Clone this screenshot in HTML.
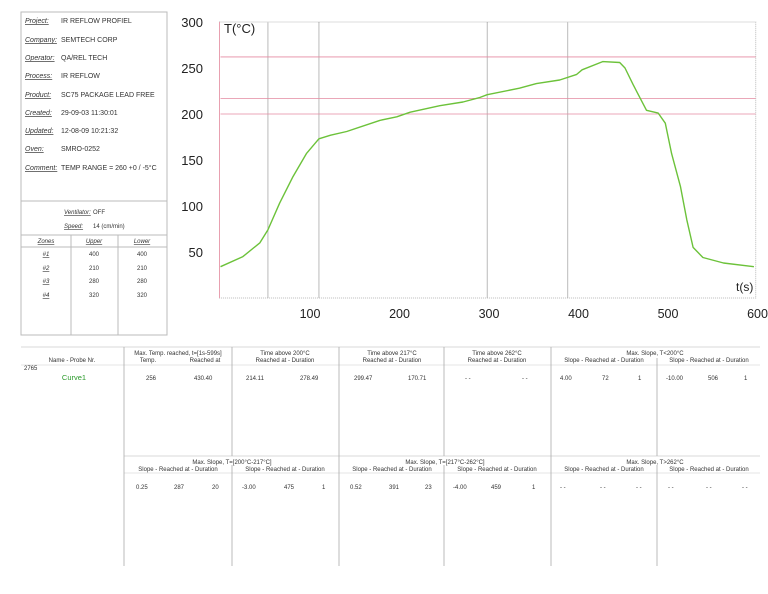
<!DOCTYPE html>
<html><head><meta charset="utf-8"><style>
html,body{margin:0;padding:0;background:#fff;width:768px;height:594px;overflow:hidden}
svg{display:block;font-family:"Liberation Sans",sans-serif}
</style></head><body>
<svg id="root" width="768" height="594" viewBox="0 0 768 594">
<!-- Info box -->
<g font-size="7" fill="#333">
<rect x="21" y="12" width="146" height="323" fill="none" stroke="#bbb" stroke-width="1"/>
<line x1="21" y1="201" x2="167" y2="201" stroke="#bbb"/>
<g text-decoration="underline" font-style="italic">
<text x="25" y="23">Project:</text><text x="25" y="42">Company:</text><text x="25" y="60">Operator:</text>
<text x="25" y="78">Process:</text><text x="25" y="97">Product:</text><text x="25" y="115">Created:</text>
<text x="25" y="133">Updated:</text><text x="25" y="151">Oven:</text><text x="25" y="170">Comment:</text>
</g>
<text x="61" y="23">IR REFLOW PROFIEL</text><text x="61" y="42">SEMTECH CORP</text><text x="61" y="60">QA/REL TECH</text>
<text x="61" y="78">IR REFLOW</text><text x="61" y="97">SC75 PACKAGE LEAD FREE</text><text x="61" y="115">29-09-03 11:30:01</text>
<text x="61" y="133">12-08-09 10:21:32</text><text x="61" y="151">SMRO-0252</text><text x="61" y="170">TEMP RANGE = 260 +0 / -5°C</text>
<g font-size="6">
<text x="64" y="214" font-style="italic" text-decoration="underline">Ventilator:</text><text x="93" y="214">OFF</text>
<text x="64" y="228" font-style="italic" text-decoration="underline">Speed:</text><text x="93" y="228">14 (cm/min)</text>
<line x1="21" y1="235" x2="167" y2="235" stroke="#bbb"/><line x1="21" y1="247" x2="167" y2="247" stroke="#bbb"/>
<line x1="71" y1="235" x2="71" y2="335" stroke="#bbb"/><line x1="118" y1="235" x2="118" y2="335" stroke="#bbb"/>
<g font-style="italic" text-decoration="underline" text-anchor="middle"><text x="46" y="243">Zones</text><text x="94" y="243">Upper</text><text x="142" y="243">Lower</text>
<text x="46" y="256">#1</text><text x="46" y="270">#2</text><text x="46" y="283">#3</text><text x="46" y="297">#4</text></g>
<g text-anchor="middle"><text x="94" y="256">400</text><text x="142" y="256">400</text><text x="94" y="270">210</text><text x="142" y="270">210</text>
<text x="94" y="283">280</text><text x="142" y="283">280</text><text x="94" y="297">320</text><text x="142" y="297">320</text></g>
</g>
</g>
<!-- Chart -->
<g id="chart"></g>
<!-- Bottom table -->
<g font-size="6" fill="#333" stroke-width="0.8">
<line x1="21" y1="347" x2="760" y2="347" stroke="#ccc"/>
<line x1="21" y1="365" x2="760" y2="365" stroke="#ddd"/>
<line x1="124" y1="456" x2="760" y2="456" stroke="#ccc"/>
<line x1="124" y1="473" x2="760" y2="473" stroke="#ddd"/>
<g stroke="#aaa"><line x1="124" y1="347" x2="124" y2="566"/><line x1="232" y1="347" x2="232" y2="456"/><line x1="232" y1="465" x2="232" y2="566"/>
<line x1="339" y1="347" x2="339" y2="566"/><line x1="444" y1="347" x2="444" y2="456"/><line x1="444" y1="465" x2="444" y2="566"/>
<line x1="551" y1="347" x2="551" y2="566"/><line x1="657" y1="358" x2="657" y2="456"/><line x1="657" y1="465" x2="657" y2="566"/></g>
<text x="72" y="362" text-anchor="middle">Name - Probe Nr.</text>
<text x="24" y="370">2765</text>
<text x="74" y="380" text-anchor="middle" fill="#2a9a2a" font-size="7.5">Curve1</text>
<g text-anchor="middle">
<text x="178" y="355">Max. Temp. reached, t=[1s-599s]</text><text x="148" y="362">Temp.</text><text x="205" y="362">Reached at</text>
<text x="285" y="355">Time above 200°C</text><text x="285" y="362">Reached at - Duration</text>
<text x="392" y="355">Time above 217°C</text><text x="392" y="362">Reached at - Duration</text>
<text x="497" y="355">Time above 262°C</text><text x="497" y="362">Reached at - Duration</text>
<text x="655" y="355">Max. Slope, T&lt;200°C</text><text x="604" y="362">Slope - Reached at - Duration</text><text x="709" y="362">Slope - Reached at - Duration</text>
<text x="232" y="464">Max. Slope, T=[200°C-217°C]</text><text x="178" y="471">Slope - Reached at - Duration</text><text x="285" y="471">Slope - Reached at - Duration</text>
<text x="445" y="464">Max. Slope, T=[217°C-262°C]</text><text x="392" y="471">Slope - Reached at - Duration</text><text x="497" y="471">Slope - Reached at - Duration</text>
<text x="655" y="464">Max. Slope, T&gt;262°C</text><text x="604" y="471">Slope - Reached at - Duration</text><text x="709" y="471">Slope - Reached at - Duration</text>
</g>
<g>
<text x="146" y="380">256</text><text x="194" y="380">430.40</text><text x="246" y="380">214.11</text><text x="300" y="380">278.49</text>
<text x="354" y="380">299.47</text><text x="408" y="380">170.71</text><text x="465" y="380">- -</text><text x="522" y="380">- -</text>
<text x="560" y="380">4.00</text><text x="602" y="380">72</text><text x="638" y="380">1</text>
<text x="666" y="380">-10.00</text><text x="708" y="380">506</text><text x="744" y="380">1</text>
<text x="136" y="489">0.25</text><text x="174" y="489">287</text><text x="212" y="489">20</text>
<text x="242" y="489">-3.00</text><text x="284" y="489">475</text><text x="322" y="489">1</text>
<text x="350" y="489">0.52</text><text x="389" y="489">391</text><text x="425" y="489">23</text>
<text x="453" y="489">-4.00</text><text x="491" y="489">459</text><text x="532" y="489">1</text>
<text x="560" y="489">- -</text><text x="600" y="489">- -</text><text x="636" y="489">- -</text>
<text x="668" y="489">- -</text><text x="706" y="489">- -</text><text x="742" y="489">- -</text>
</g>
</g>
<script>
const tValues=[0,25,44,53,66,81,96,110,123,141,178,197,212,245,271,290,298,334,353,379,398,404,427,446,452,461,469,476,489,497,504,514,521,528,539,562,596];
const tempValues=[34,45,60,74,103,132,157,173,177,181,193,197,202,209,213,218,221,228,233,237,243,248,257,256,250,232,217,204,201,190,157,121,85,55,44,38,34];
const xTicks=[100,200,300,400,500,600];
const yTicks=[50,100,150,200,250,300];
const limitLines=[262,217,200];
const timeMarkers=[53,110,298,388];
const NS='http://www.w3.org/2000/svg';
const X0=220.5,XK=0.895,Y0=298,YK=0.92;
function xs(t){return X0+t*XK;}
function ys(v){return Y0-v*YK;}
const g=document.getElementById('chart');
function mk(tag,attrs,parent){const e=document.createElementNS(NS,tag);for(const k in attrs)e.setAttribute(k,attrs[k]);(parent||g).appendChild(e);return e;}
const frame=mk('rect',{x:xs(0)-1,y:ys(300),width:xs(598)-xs(0)+1,height:ys(0)-ys(300),fill:'none',stroke:'#bbb','stroke-dasharray':'1,1'});


const la=mk('line',{x1:xs(0)-1,x2:xs(0)-1,y1:ys(300),y2:ys(0),stroke:'#e8a0b0'});


timeMarkers.forEach(t=>{const l=mk('line',{x1:xs(t),x2:xs(t),y1:ys(300),y2:ys(0),stroke:'#aaa','stroke-width':0.8});

});
limitLines.forEach(v=>{const l=mk('line',{x1:xs(0),x2:xs(598),y1:ys(v),y2:ys(v),stroke:'#e48aa0','stroke-width':0.8});

});
yTicks.forEach(v=>{const tx=mk('text',{x:203,y:ys(v)+5,'text-anchor':'end','font-size':13,fill:'#222'});tx.textContent=v;

});
xTicks.forEach(v=>{const tx=mk('text',{x:xs(v),y:318,'text-anchor':'middle','font-size':12.5,fill:'#222'});tx.textContent=v;

});
const yt=mk('text',{x:224,y:33,'font-size':13,fill:'#222'});yt.textContent='T(°C)';


const xt=mk('text',{x:736,y:291,'font-size':12,fill:'#222'});xt.textContent='t(s)';


const pts=tValues.map((t,i)=>xs(t).toFixed(1)+','+ys(tempValues[i]).toFixed(1)).join(' ');
const pl=mk('polyline',{points:pts,fill:'none',stroke:'#6cc23a','stroke-width':1.4,'stroke-linejoin':'round'});


</script>
</svg>
</body></html>
